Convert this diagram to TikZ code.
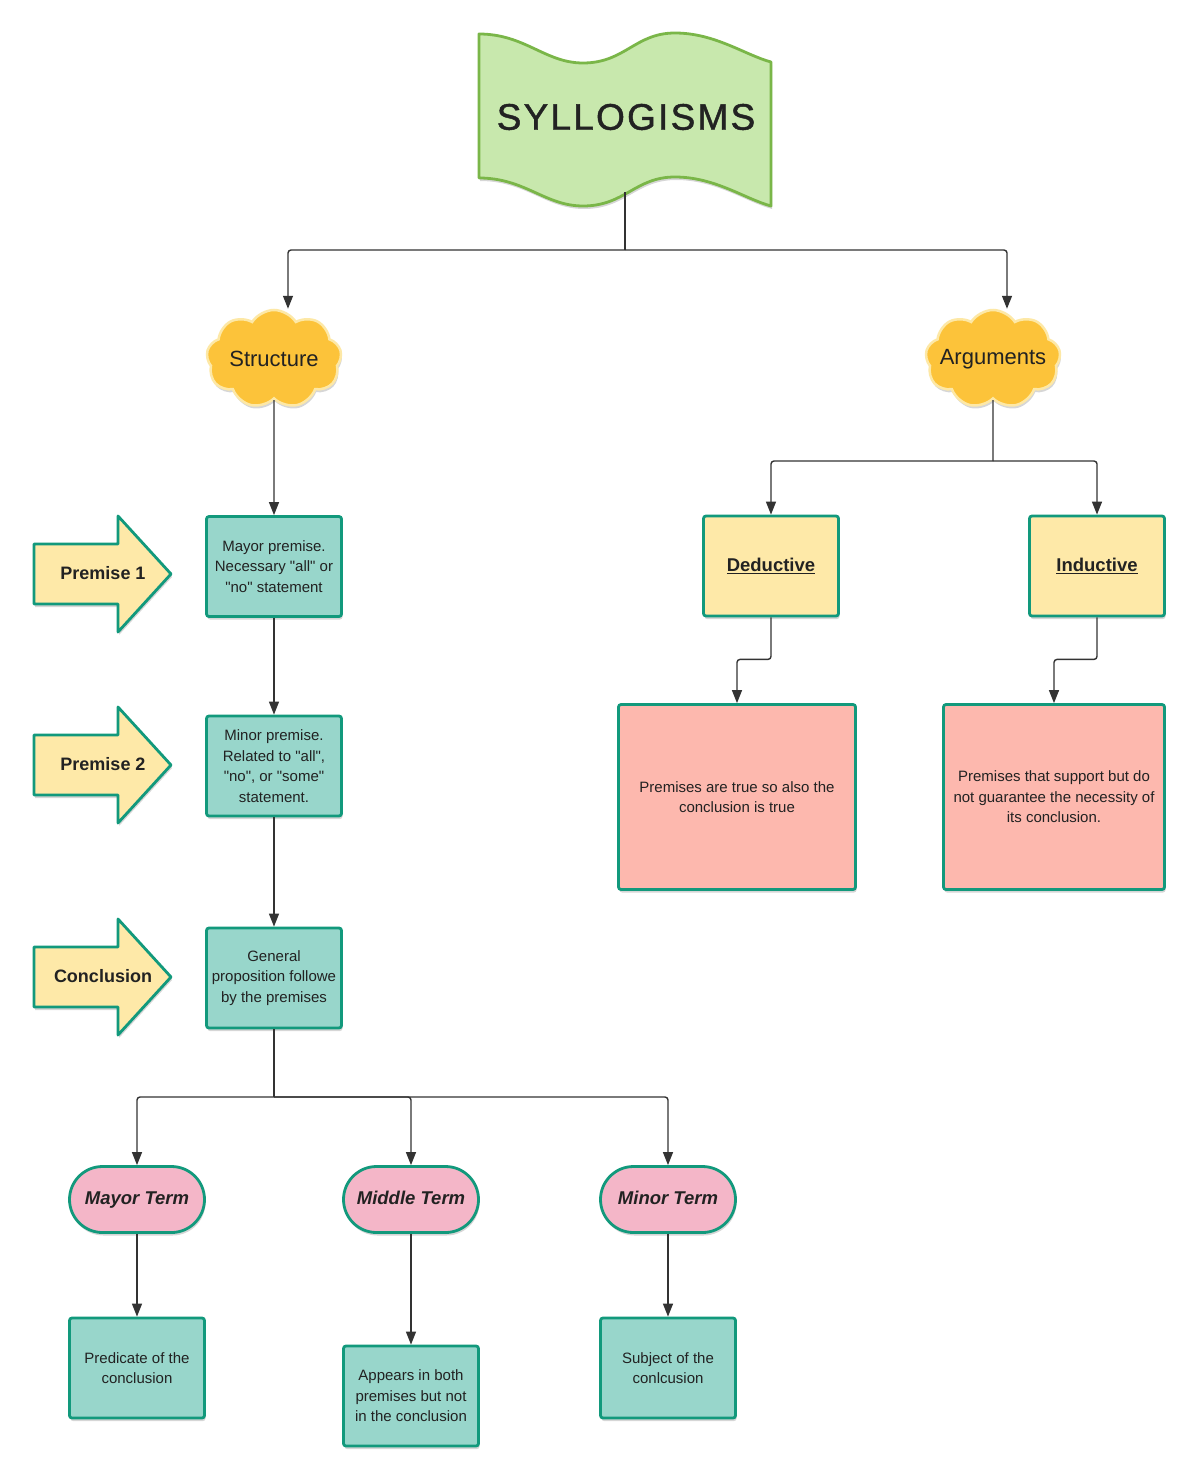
\documentclass[tikz,border=0pt]{standalone}
\usepackage{fontspec}
\setmainfont{Liberation Sans}[Ligatures=TeXOff]
\newfontfamily\titlefont[LetterSpace=6,FakeBold=1.2]{Liberation Sans}
\usetikzlibrary{arrows.meta,shapes.symbols,shadows,calc}
\definecolor{tealb}{HTML}{12997C}
\definecolor{tealf}{HTML}{98D6CB}
\definecolor{yelf}{HTML}{FEE9A8}
\definecolor{salf}{HTML}{FDB8AE}
\definecolor{pinkf}{HTML}{F4B6C8}
\definecolor{cloudf}{HTML}{FCC33A}
\definecolor{cloudb}{HTML}{FDE8A6}
\definecolor{banf}{HTML}{C8E8AD}
\definecolor{banb}{HTML}{7AB648}
\definecolor{lc}{HTML}{333333}
\definecolor{txt}{HTML}{222222}
\tikzset{
  shad/.style={drop shadow={shadow xshift=1pt, shadow yshift=-3pt, opacity=0.16, fill=black}},
  base/.style={draw=tealb, line width=2.8pt, rounded corners=2.5pt, align=center, text=txt, inner sep=0pt, shad},
  tbox/.style={base, fill=tealf, minimum width=135pt, minimum height=100pt, font=\fontsize{15}{20.5}\selectfont},
  ybox/.style={base, fill=yelf, minimum width=135pt, minimum height=100pt, font=\bfseries\fontsize{18.5}{22}\selectfont},
  rbox/.style={base, fill=salf, minimum height=185pt, font=\fontsize{15}{20.5}\selectfont},
  pill/.style={base, fill=pinkf, minimum width=135pt, minimum height=66pt, rounded corners=33pt, text height=13.5pt, text depth=4pt, font=\bfseries\itshape\fontsize{18.5}{22}\selectfont},
  cloudn/.style={cloud, cloud puffs=9, cloud puff arc=115, aspect=1.4, draw=cloudb, fill=cloudf, line width=2.5pt, minimum width=135pt, minimum height=98pt, font=\fontsize{22}{26}\selectfont, text=txt, inner sep=0pt, shad},
  conn/.style={draw=lc, line width=1.4pt, rounded corners=3pt, -{Triangle[length=13pt,width=10pt]}},
  barrow/.style={draw=tealb, fill=yelf, line width=2.8pt, line join=round, shad},
  alabel/.style={font=\bfseries\fontsize{18}{22}\selectfont, text=txt},
  ttl/.style={font=\titlefont\fontsize{37}{40}\selectfont, text=txt}
}
\begin{document}
\begin{tikzpicture}[x=1pt,y=-1pt]
\useasboundingbox[fill=white] (0,0) rectangle (1200,1482);

% banner
\draw[line width=2.8pt, draw=banb, fill=banf, line join=round, shad]
 (479,34) .. controls (525,34) and (545,63) .. (583,63)
 .. controls (625,63) and (635,33) .. (675,33)
 .. controls (715,33) and (745,55) .. (771,62)
 -- (771,206) .. controls (745,199) and (715,177) .. (675,177)
 .. controls (635,177) and (625,206) .. (583,206)
 .. controls (545,206) and (525,178) .. (479,178) -- cycle;
\node[ttl] (title) at (626,117) {SYLLOGISMS};
\coordinate (bannerbot) at (625,192);
\coordinate (j1) at (625,250);

% clouds
\node[cloudn] (structure) at (274,359) {\makebox[0pt]{Structure}};
\node[cloudn] (arguments) at (993,359) {\makebox[0pt]{Arguments}};

% left column
\node[tbox] (box1) at (274,566.5) {Mayor premise.\\Necessary "all" or\\"no" statement};
\node[tbox] (box2) at (274,766) {Minor premise.\\Related to "all",\\"no", or "some"\\statement.};
\node[tbox] (box3) at (274,978) {General\\proposition followe\\by the premises};

% block arrows
\foreach \c/\nm/\lab in {574/pa/Premise 1, 765/pb/Premise 2, 977/pc/Conclusion}{
  \draw[barrow, shift={(0,\c)}] (34,-30) -- (118,-30) -- (118,-58) -- (171,0) -- (118,58) -- (118,30) -- (34,30) -- cycle;
  \node[alabel] (\nm) at (103,\c-1) {\lab};
}

% right side
\node[ybox] (deductive) at (771,566) {\underline{Deductive}};
\node[ybox] (inductive) at (1097,566) {\underline{Inductive}};
\node[rbox, minimum width=237pt] (dedres) at (737,797) {Premises are true so also the\\conclusion is true};
\node[rbox, minimum width=221pt] (indres) at (1054,797) {Premises that support but do\\not guarantee the necessity of\\its conclusion.};
\coordinate (j2) at (993,461);

% terms
\node[pill] (mayorterm) at (137,1199.5) {Mayor Term};
\node[pill] (middleterm) at (411,1199.5) {Middle Term};
\node[pill] (minorterm) at (668,1199.5) {Minor Term};
\node[tbox] (pred) at (137,1368) {Predicate of the\\conclusion};
\node[tbox] (appears) at (411,1396) {Appears in both\\premises but not\\in the conclusion};
\node[tbox] (subj) at (668,1368) {Subject of the\\conlcusion};
\coordinate (j3) at (274,1097);

% connectors
\draw[draw=lc, line width=1.4pt] (bannerbot) -- (j1);
\draw[conn] (j1) -| ($(structure.north)+(14,0)$);
\draw[conn] (j1) -| ($(arguments.north)+(14,0)$);
\draw[conn] (structure.south) -- (box1.north);
\draw[conn] (box1.south) -- (box2.north);
\draw[conn] (box2.south) -- (box3.north);
\draw[draw=lc, line width=1.4pt] (arguments.south) -- (j2);
\draw[conn] (j2) -| (deductive.north);
\draw[conn] (j2) -| (inductive.north);
\draw[conn] (deductive.south) -- ++(0,42) -| (dedres.north);
\draw[conn] (inductive.south) -- ++(0,42) -| (indres.north);
\draw[draw=lc, line width=1.4pt] (box3.south) -- (j3);
\draw[conn] (j3) -| (mayorterm.north);
\draw[conn] (j3) -| (middleterm.north);
\draw[conn] (j3) -| (minorterm.north);
\draw[conn] (mayorterm.south) -- (pred.north);
\draw[conn] (middleterm.south) -- (appears.north);
\draw[conn] (minorterm.south) -- (subj.north);
\end{tikzpicture}
\end{document}
